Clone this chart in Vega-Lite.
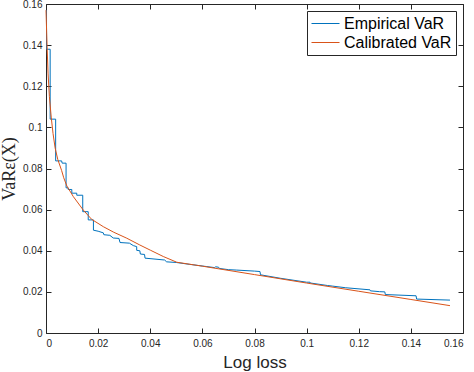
{
  "$schema": "https://vega.github.io/schema/vega-lite/v6.json",
  "width": 417,
  "height": 329,
  "autosize": {"type": "none"},
  "padding": {"left": 46, "top": 4, "right": 11, "bottom": 39},
  "background": "white",
  "config": {
    "view": {"stroke": null},
    "font": "Liberation Sans",
    "axis": {
      "domainColor": "#262626",
      "tickColor": "#262626",
      "labelColor": "#262626",
      "titleColor": "#262626",
      "labelFontSize": 10,
      "tickSize": -5,
      "grid": false,
      "titleFontWeight": "normal"
    }
  },
  "datasets": {
    "emp": [
      {"x": 0.0002, "y": 0.157, "s": "Empirical VaR"},
      {"x": 0.0002, "y": 0.138, "s": "Empirical VaR"},
      {"x": 0.0016, "y": 0.138, "s": "Empirical VaR"},
      {"x": 0.0016, "y": 0.104, "s": "Empirical VaR"},
      {"x": 0.0037, "y": 0.104, "s": "Empirical VaR"},
      {"x": 0.0037, "y": 0.0837, "s": "Empirical VaR"},
      {"x": 0.006, "y": 0.0837, "s": "Empirical VaR"},
      {"x": 0.0062, "y": 0.0826, "s": "Empirical VaR"},
      {"x": 0.0077, "y": 0.0826, "s": "Empirical VaR"},
      {"x": 0.0077, "y": 0.0706, "s": "Empirical VaR"},
      {"x": 0.0085, "y": 0.0706, "s": "Empirical VaR"},
      {"x": 0.0085, "y": 0.0698, "s": "Empirical VaR"},
      {"x": 0.0099, "y": 0.0698, "s": "Empirical VaR"},
      {"x": 0.0099, "y": 0.068, "s": "Empirical VaR"},
      {"x": 0.0118, "y": 0.068, "s": "Empirical VaR"},
      {"x": 0.0118, "y": 0.067, "s": "Empirical VaR"},
      {"x": 0.0141, "y": 0.067, "s": "Empirical VaR"},
      {"x": 0.0141, "y": 0.059, "s": "Empirical VaR"},
      {"x": 0.0162, "y": 0.059, "s": "Empirical VaR"},
      {"x": 0.0162, "y": 0.055, "s": "Empirical VaR"},
      {"x": 0.0182, "y": 0.055, "s": "Empirical VaR"},
      {"x": 0.0182, "y": 0.05, "s": "Empirical VaR"},
      {"x": 0.02, "y": 0.0495, "s": "Empirical VaR"},
      {"x": 0.022, "y": 0.0487, "s": "Empirical VaR"},
      {"x": 0.0222, "y": 0.0478, "s": "Empirical VaR"},
      {"x": 0.0245, "y": 0.0475, "s": "Empirical VaR"},
      {"x": 0.0258, "y": 0.0462, "s": "Empirical VaR"},
      {"x": 0.028, "y": 0.046, "s": "Empirical VaR"},
      {"x": 0.0284, "y": 0.044, "s": "Empirical VaR"},
      {"x": 0.032, "y": 0.0437, "s": "Empirical VaR"},
      {"x": 0.0335, "y": 0.0425, "s": "Empirical VaR"},
      {"x": 0.0348, "y": 0.042, "s": "Empirical VaR"},
      {"x": 0.0348, "y": 0.0402, "s": "Empirical VaR"},
      {"x": 0.036, "y": 0.04, "s": "Empirical VaR"},
      {"x": 0.0362, "y": 0.0384, "s": "Empirical VaR"},
      {"x": 0.0378, "y": 0.0382, "s": "Empirical VaR"},
      {"x": 0.038, "y": 0.0364, "s": "Empirical VaR"},
      {"x": 0.0455, "y": 0.0355, "s": "Empirical VaR"},
      {"x": 0.0463, "y": 0.0346, "s": "Empirical VaR"},
      {"x": 0.05, "y": 0.0343, "s": "Empirical VaR"},
      {"x": 0.055, "y": 0.0334, "s": "Empirical VaR"},
      {"x": 0.0617, "y": 0.0323, "s": "Empirical VaR"},
      {"x": 0.0647, "y": 0.0318, "s": "Empirical VaR"},
      {"x": 0.065, "y": 0.0322, "s": "Empirical VaR"},
      {"x": 0.0662, "y": 0.032, "s": "Empirical VaR"},
      {"x": 0.0665, "y": 0.0314, "s": "Empirical VaR"},
      {"x": 0.07, "y": 0.0308, "s": "Empirical VaR"},
      {"x": 0.0732, "y": 0.0306, "s": "Empirical VaR"},
      {"x": 0.08, "y": 0.0301, "s": "Empirical VaR"},
      {"x": 0.0821, "y": 0.0299, "s": "Empirical VaR"},
      {"x": 0.0823, "y": 0.0283, "s": "Empirical VaR"},
      {"x": 0.09, "y": 0.0266, "s": "Empirical VaR"},
      {"x": 0.1, "y": 0.0247, "s": "Empirical VaR"},
      {"x": 0.1013, "y": 0.0247, "s": "Empirical VaR"},
      {"x": 0.1015, "y": 0.0243, "s": "Empirical VaR"},
      {"x": 0.108, "y": 0.0231, "s": "Empirical VaR"},
      {"x": 0.11, "y": 0.0228, "s": "Empirical VaR"},
      {"x": 0.115, "y": 0.022, "s": "Empirical VaR"},
      {"x": 0.1243, "y": 0.021, "s": "Empirical VaR"},
      {"x": 0.1245, "y": 0.0205, "s": "Empirical VaR"},
      {"x": 0.128, "y": 0.0201, "s": "Empirical VaR"},
      {"x": 0.13, "y": 0.02, "s": "Empirical VaR"},
      {"x": 0.1302, "y": 0.0187, "s": "Empirical VaR"},
      {"x": 0.142, "y": 0.0181, "s": "Empirical VaR"},
      {"x": 0.1422, "y": 0.0165, "s": "Empirical VaR"},
      {"x": 0.155, "y": 0.016, "s": "Empirical VaR"}
    ],
    "cal": [
      {"x": 0.0, "y": 0.157, "s": "Calibrated VaR"},
      {"x": 0.0004, "y": 0.14, "s": "Calibrated VaR"},
      {"x": 0.0008, "y": 0.126, "s": "Calibrated VaR"},
      {"x": 0.0013, "y": 0.115, "s": "Calibrated VaR"},
      {"x": 0.002, "y": 0.105, "s": "Calibrated VaR"},
      {"x": 0.0027, "y": 0.097, "s": "Calibrated VaR"},
      {"x": 0.0035, "y": 0.09, "s": "Calibrated VaR"},
      {"x": 0.0045, "y": 0.0845, "s": "Calibrated VaR"},
      {"x": 0.006, "y": 0.079, "s": "Calibrated VaR"},
      {"x": 0.0068, "y": 0.0755, "s": "Calibrated VaR"},
      {"x": 0.008, "y": 0.0715, "s": "Calibrated VaR"},
      {"x": 0.0105, "y": 0.0663, "s": "Calibrated VaR"},
      {"x": 0.0143, "y": 0.0598, "s": "Calibrated VaR"},
      {"x": 0.0175, "y": 0.0553, "s": "Calibrated VaR"},
      {"x": 0.022, "y": 0.0517, "s": "Calibrated VaR"},
      {"x": 0.026, "y": 0.049, "s": "Calibrated VaR"},
      {"x": 0.031, "y": 0.0461, "s": "Calibrated VaR"},
      {"x": 0.036, "y": 0.0428, "s": "Calibrated VaR"},
      {"x": 0.04, "y": 0.0403, "s": "Calibrated VaR"},
      {"x": 0.045, "y": 0.0372, "s": "Calibrated VaR"},
      {"x": 0.0502, "y": 0.0344, "s": "Calibrated VaR"},
      {"x": 0.06, "y": 0.0325, "s": "Calibrated VaR"},
      {"x": 0.08, "y": 0.0284, "s": "Calibrated VaR"},
      {"x": 0.1, "y": 0.0243, "s": "Calibrated VaR"},
      {"x": 0.12, "y": 0.0203, "s": "Calibrated VaR"},
      {"x": 0.14, "y": 0.0163, "s": "Calibrated VaR"},
      {"x": 0.155, "y": 0.0133, "s": "Calibrated VaR"}
    ]
  },
  "layer": [
    {
      "layer": [
        {"data": {"name": "emp"}, "mark": {"type": "line", "strokeWidth": 1}},
        {"data": {"name": "cal"}, "mark": {"type": "line", "strokeWidth": 1}}
      ],
      "encoding": {
        "x": {
          "field": "x", "type": "quantitative",
          "scale": {"domain": [0, 0.16], "nice": false, "zero": false},
          "axis": {
            "orient": "bottom",
            "values": [0, 0.02, 0.04, 0.06, 0.08, 0.1, 0.12, 0.14, 0.16],
            "format": "~g",
            "labelPadding": 10,
            "title": "Log loss",
            "titleFontSize": 17,
            "titlePadding": 6
          }
        },
        "y": {
          "field": "y", "type": "quantitative",
          "scale": {"domain": [0, 0.16], "nice": false, "zero": false},
          "axis": {
            "orient": "left",
            "values": [0, 0.02, 0.04, 0.06, 0.08, 0.1, 0.12, 0.14, 0.16],
            "format": "~g",
            "labelPadding": 9,
            "title": "VaRε(X)",
            "titleFont": "Liberation Serif",
            "titleFontSize": 18,
            "titlePadding": 4
          }
        },
        "color": {
          "field": "s", "type": "nominal",
          "scale": {"domain": ["Empirical VaR", "Calibrated VaR"], "range": ["#0072BD", "#D95319"]},
          "legend": {
            "title": null,
            "orient": "top-right",
            "offset": 7,
            "padding": 4,
            "strokeColor": "#262626",
            "fillColor": "white",
            "symbolType": "M-1,0L2.5,0",
            "symbolSize": 256,
            "symbolStrokeWidth": 1,
            "labelFontSize": 16,
            "labelColor": "#000000",
            "labelOffset": 16,
            "rowPadding": 2
          }
        }
      }
    },
    {
      "data": {"name": "cal"},
      "mark": {"type": "line", "strokeOpacity": 0},
      "encoding": {
        "x": {
          "field": "x", "type": "quantitative",
          "axis": {"orient": "top", "values": [0, 0.02, 0.04, 0.06, 0.08, 0.1, 0.12, 0.14, 0.16], "labels": false, "title": null}
        },
        "y": {
          "field": "y", "type": "quantitative",
          "axis": {"orient": "right", "values": [0, 0.02, 0.04, 0.06, 0.08, 0.1, 0.12, 0.14, 0.16], "labels": false, "title": null}
        }
      }
    }
  ],
  "resolve": {"axis": {"x": "independent", "y": "independent"}}
}
